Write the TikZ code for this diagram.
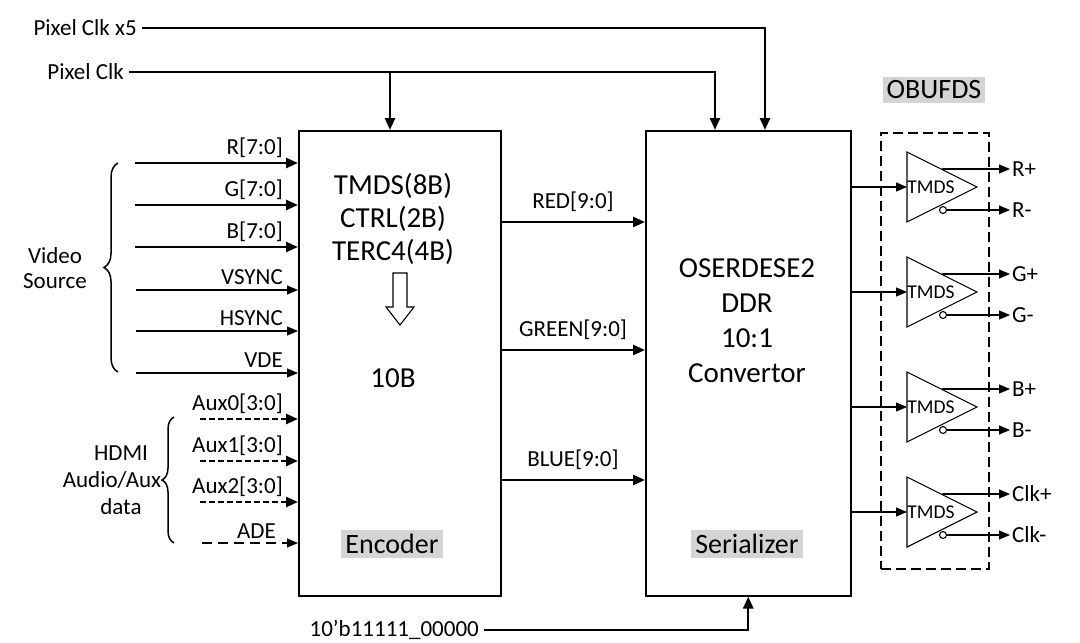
\documentclass[tikz,border=0pt]{standalone}
\usepackage{fontspec}
\setmainfont{Carlito}
\usetikzlibrary{arrows.meta,decorations.pathreplacing}
\begin{document}
\begin{tikzpicture}[x=1pt,y=-1pt,
  lbl/.style={font=\fontsize{23}{25}\selectfont,inner sep=1pt},
  big/.style={font=\fontsize{29}{32}\selectfont,inner sep=0pt},
  thk/.style={line width=2.4pt,-{Triangle[length=12pt,width=10pt]}},
  thn/.style={line width=1.1pt,-{Triangle[length=11pt,width=9pt]}},
  dsh/.style={line width=2.4pt,dash pattern=on 6pt off 3pt,-{Triangle[length=12pt,width=10pt]}},
  gray/.style={fill=black!17,inner sep=4pt,font=\fontsize{28}{30}\selectfont},
  buf/.style={line width=1.1pt}]
\useasboundingbox (0,0) rectangle (1080,643);
\node[draw,line width=1.5pt,minimum width=202pt,minimum height=465pt,anchor=north west] (enc) at (298,130) {};
\node[draw,line width=1.5pt,minimum width=205pt,minimum height=465pt,anchor=north west] (ser) at (645,130) {};
\node[draw,line width=1.5pt,dash pattern=on 10pt off 5pt,minimum width=108pt,minimum height=436pt,anchor=north west] (ob) at (880,132) {};
\node[gray] (obl) at (934,90) {OBUFDS};
\node[gray] (encl) at (392,544) {Encoder};
\node[gray] (serl) at (747,544) {Serializer};
% encoder text
\node[big] (t1) at (393,186) {TMDS(8B)};
\node[big] (t2) at (393,219) {CTRL(2B)};
\node[big] (t3) at (393,252) {TERC4(4B)};
\node[big] (t4) at (393,378) {10B};
\draw[line width=1.1pt] (400,325) -- (386,307) -- (393,307) -- (393,273) -- (407,273) -- (407,307) -- (414,307) -- cycle;
\node[big] (s1) at (747,268) {OSERDESE2};
\node[big] (s2) at (747,303) {DDR};
\node[big] (s3) at (747,338) {10:1};
\node[big] (s4) at (747,373) {Convertor};
% clocks
\node[lbl,anchor=east] (pc5) at (138,28) {Pixel Clk x5};
\node[lbl,anchor=east] (pc) at (125,72) {Pixel Clk};
\draw[thk] (pc5.east)++(4,0) -| (765,130);
\draw[thk] (pc.east)++(4,0) -| (715,130);
\draw[thk] (390,72) -- (390,130);
% inputs
\foreach \y/\t/\s/\x in {163/R[7:0]/thk/135,205/G[7:0]/thk/135,247/B[7:0]/thk/135,290/VSYNC/thn/136,331/HSYNC/thn/136,373/VDE/thn/136,419/Aux0[3:0]/dsh/200,461/Aux1[3:0]/dsh/200,502/Aux2[3:0]/dsh/200}{
  \coordinate (i\y) at (\x,\y);
  \draw[\s] (i\y) -- (298,\y);
  \node[lbl,anchor=south east] at (284,\y-4) {\t};
}
\coordinate (ia) at (202,543);
\draw[line width=1.1pt,dash pattern=on 10pt off 6pt,-{Triangle[length=11pt,width=9pt]}] (ia) -- (298,543);
\node[lbl,anchor=south east] at (277,540) {ADE};
\draw[line width=1.5pt,decorate,decoration={brace,amplitude=14pt}] (118,372) -- (118,163);
\node[lbl,align=center] (vs) at (55,268) {Video\\Source};
\draw[line width=1.5pt,decorate,decoration={brace,amplitude=12pt}] (174,543) -- (174,417);
\node[lbl,align=center,font=\fontsize{23}{27}\selectfont] (hd) at (112,480) {\hspace*{18pt}HDMI\\Audio/Aux\\\hspace*{18pt}data};
% middle
\foreach \y/\t in {222/RED[9:0],350/GREEN[9:0],480/BLUE[9:0]}{
  \draw[thk] (enc.east|-0,\y) -- (ser.west|-0,\y);
  \node[lbl,anchor=south] at (573,\y-9) {\t};
}
% bottom
\node[lbl,anchor=east] (pat) at (480,630) {10'b11111\_00000};
\draw[thk] (pat.east)++(4,0) -| (ser.south);
% buffers
\foreach \c/\p/\m in {187/R/R,292/G/G,407/B/B,512/Clk/Clk}{
  \draw[buf] (907,\c-35) -- (977,\c) -- (907,\c+35) -- cycle;
  \node[font=\fontsize{19.5}{21}\selectfont,inner sep=0pt] at (931,\c) {TMDS};
  \draw[thn] (850,\c) -- (907,\c);
  \draw[thn] (942,\c-18) -- (1010,\c-18);
  \draw[buf] (943,\c+23) circle (3.5pt);
  \draw[thn] (946.5,\c+23) -- (1010,\c+23);
  \node[lbl,anchor=west] at (1011,\c-18) {\p+};
  \node[lbl,anchor=west] at (1011,\c+23) {\m-};
}
\end{tikzpicture}
\end{document}
